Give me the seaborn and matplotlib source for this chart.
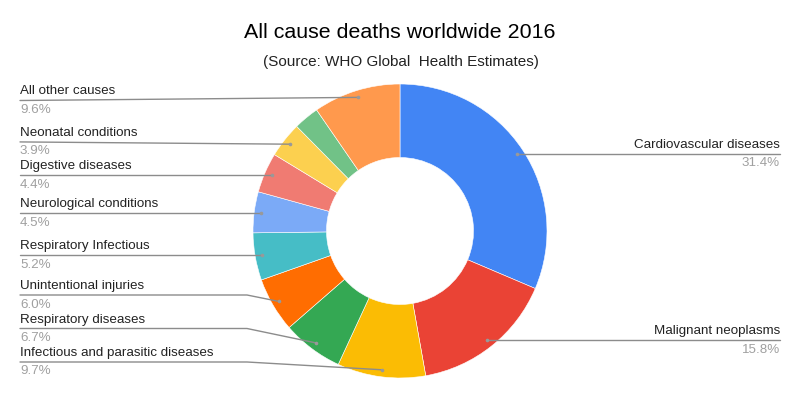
import numpy as np
import matplotlib
matplotlib.use("Agg")
import matplotlib.pyplot as plt
import seaborn as sns

categories = ["Cardiovascular diseases", "Malignant neoplasms", "Infectious and parasitic diseases",
              "Respiratory diseases", "Unintentional injuries", "Respiratory Infectious",
              "Neurological conditions", "Digestive diseases", "Neonatal conditions",
              "Diabetes mellitus", "All other causes"]
shares = [31.4, 15.8, 9.7, 6.7, 6.0, 5.2, 4.5, 4.4, 3.9, 2.8, 9.6]
show_label = [True, True, True, True, True, True, True, True, True, False, True]
colors = ["#4285F4", "#EA4335", "#FBBC04", "#34A853", "#FF6D01", "#46BDC6",
          "#7BAAF7", "#F07B72", "#FCD04F", "#71C287", "#FF994D"]

sns.set_theme(style="white")
plt.rcParams['font.family'] = ['Liberation Sans', 'DejaVu Sans']

W, H = 800, 399
fig = plt.figure(figsize=(W / 100, H / 100), dpi=100)
fig.patch.set_facecolor("white")

cx, cy, R = 400, 231, 147
ax = fig.add_axes([(cx - R) / W, (H - cy - R) / H, 2 * R / W, 2 * R / H])
wedges, _ = ax.pie(shares, colors=colors, startangle=90, counterclock=False, radius=1,
                   wedgeprops=dict(width=0.5, edgecolor="white", linewidth=0.4))
ax.set_xlim(-1, 1)
ax.set_ylim(-1, 1)
ax.set_aspect("equal")
ax.axis("off")

ov = fig.add_axes([0, 0, 1, 1], facecolor="none")
ov.set_xlim(0, W)
ov.set_ylim(H, 0)
ov.axis("off")

ov.text(400, 33, "All cause deaths worldwide 2016", ha="center", va="center",
        fontsize=15.4, color="#000000")
ov.text(401, 62, "(Source: WHO Global  Health Estimates)", ha="center", va="center",
        fontsize=11, color="#222222")

anchors = []
for w in wedges:
    mid = np.deg2rad((w.theta1 + w.theta2) / 2)
    r = 0.952
    anchors.append((cx + R * r * np.cos(mid), cy - R * r * np.sin(mid)))

lab_fs = 9.6
line_col = "#8c8c8c"
txt_col = "#222222"
pct_col = "#a0a0a0"

right_idx = [i for i, a in enumerate(anchors) if a[0] > cx and show_label[i]]
left_idx = [i for i, a in enumerate(anchors) if a[0] <= cx and show_label[i]]

left_sorted = sorted(left_idx, key=lambda i: anchors[i][1])
ys = [anchors[i][1] for i in left_sorted]
ys[0] = max(ys[0], 100.5)
ymax, gap = 362, 33.5
for k in range(len(ys) - 1, -1, -1):
    lim = ymax if k == len(ys) - 1 else ys[k + 1] - gap
    ys[k] = min(ys[k], lim)

for i, ly in zip(left_sorted, ys):
    axp, ayp = anchors[i]
    if abs(ly - ayp) > 4:
        ov.plot([20, 247, axp], [ly, ly, ayp], color=line_col, lw=1)
    else:
        ov.plot([20, axp], [ly, ayp], color=line_col, lw=1)
    ov.plot([axp], [ayp], "o", color="#999999", ms=2.6, mec="none")
    ov.text(20, ly - 9, categories[i], ha="left", va="center", fontsize=lab_fs, color=txt_col)
    ov.text(20, ly + 9.5, f"{shares[i]:.1f}%", ha="left", va="center", fontsize=lab_fs, color=pct_col)

for i in right_idx:
    axp, ayp = anchors[i]
    ly = ayp
    ov.plot([axp, 780], [ly, ly], color=line_col, lw=1)
    ov.plot([axp], [ayp], "o", color="#999999", ms=2.6, mec="none")
    ov.text(780, ly - 9, categories[i], ha="right", va="center", fontsize=lab_fs, color=txt_col)
    ov.text(780, ly + 9.5, f"{shares[i]:.1f}%", ha="right", va="center", fontsize=lab_fs, color=pct_col)

fig.savefig("out.png", dpi=100, facecolor="white")
